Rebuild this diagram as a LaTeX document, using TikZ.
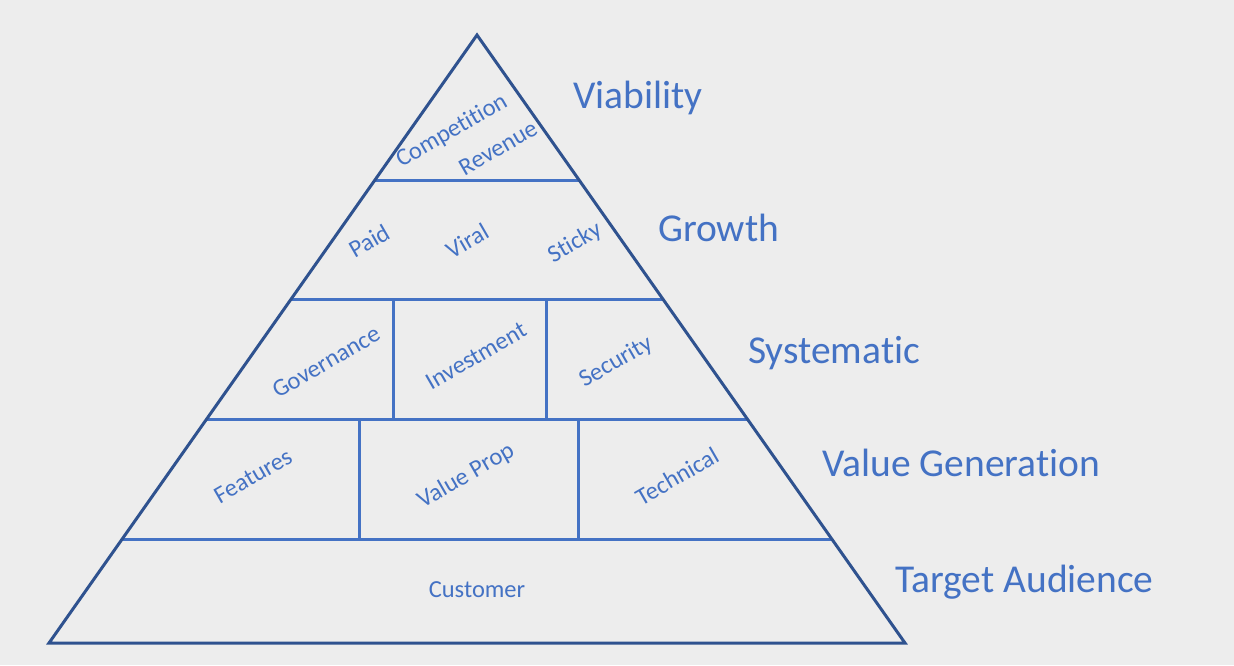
\documentclass[tikz,border=0pt]{standalone}
\usepackage{fontspec}
\setmainfont[Ligatures=NoCommon]{Carlito}
\definecolor{bg}{HTML}{EDEDED}
\definecolor{outl}{HTML}{2F528F}
\definecolor{inl}{HTML}{4472C4}
\begin{document}
\begin{tikzpicture}[x=1pt,y=-1pt,
  lab/.style={text=inl,font=\fontsize{24.5}{27}\selectfont,inner sep=0pt,rotate=30},
  ttl/.style={text=inl,font=\fontsize{39.5}{45}\selectfont,inner sep=0pt,anchor=west},
  outer/.style={draw=outl,line width=3pt,line join=miter},
  inner/.style={draw=inl,line width=3pt}]
\fill[bg] (0,0) rectangle (1234,665);
\useasboundingbox (0,0) rectangle (1234,665);
% key coordinates
\coordinate (A) at (477,35);
\coordinate (BL) at (49,643);
\coordinate (BR) at (905,643);
\coordinate (l1) at (375,180); \coordinate (r1) at (579,180);
\coordinate (l2) at (291,299); \coordinate (r2) at (663,299);
\coordinate (l3) at (207,419); \coordinate (r3) at (747,419);
\coordinate (l4) at (122,539); \coordinate (r4) at (832,539);
\coordinate (v1t) at (393,299); \coordinate (v1b) at (393,419);
\coordinate (v2t) at (546,299); \coordinate (v2b) at (546,419);
\coordinate (v3t) at (359,419); \coordinate (v3b) at (359,539);
\coordinate (v4t) at (578,419); \coordinate (v4b) at (578,539);
% inner lines
\draw[inner] (l1) -- (r1);
\draw[inner] (l2) -- (r2);
\draw[inner] (l3) -- (r3);
\draw[inner] (l4) -- (r4);
\draw[inner] (v1t) -- (v1b);
\draw[inner] (v2t) -- (v2b);
\draw[inner] (v3t) -- (v3b);
\draw[inner] (v4t) -- (v4b);
% outline
\draw[outer] (A) -- (BR) -- (BL) -- cycle;
% labels
\node[lab] (comp) at (452,131) {Competition};
\node[lab] (rev) at (498,148) {Revenue};
\node[lab] (paid) at (369,241) {Paid};
\node[lab] (viral) at (467,241) {Viral};
\node[lab] (sticky) at (575,243) {Sticky};
\node[lab] (gov) at (326,362) {Governance};
\node[lab] (inv) at (476,356) {Investment};
\node[lab] (sec) at (616,362) {Security};
\node[lab] (feat) at (253,476) {Features};
\node[lab] (vp) at (466,476) {Value Prop};
\node[lab] (tech) at (677,476) {Technical};
\node[lab,rotate=-30] (cust) at (477,590) {Customer};
% titles
\node[ttl] (t1) at (573,98) {Viability};
\node[ttl] (t2) at (658,228) {Growth};
\node[ttl] (t3) at (748,353) {Systematic};
\node[ttl] (t4) at (822,463) {Value Generation};
\node[ttl] (t5) at (895,582) {Target Audience};
\end{tikzpicture}
\end{document}
